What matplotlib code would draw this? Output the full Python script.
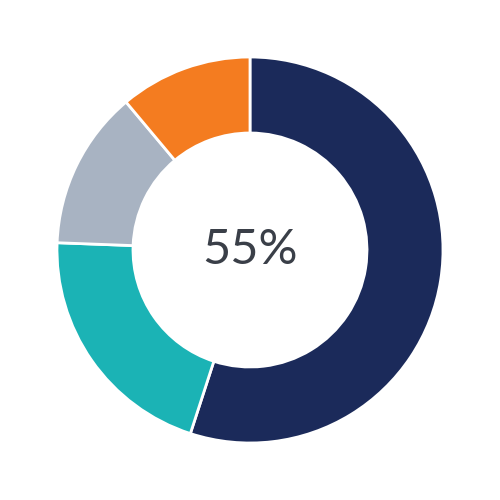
import matplotlib.pyplot as plt

labels = ['A', 'B', 'C', 'D']
values = [55, 20.6, 13.3, 11.1]
colors = ['#1b2a5a', '#1bb3b5', '#a8b3c2', '#f47c20']
center_text = '55%'

fig = plt.figure(figsize=(5, 5), dpi=100)
ax = fig.add_axes([0, 0, 1, 1])
ax.pie(values, colors=colors, startangle=90, counterclock=False,
       radius=0.772,
       wedgeprops=dict(width=0.304, edgecolor='white', linewidth=2))
ax.text(0, 0, center_text, ha='center', va='center', fontsize=35,
        family=['Lato', 'DejaVu Sans'], color='#3a3f48')
ax.set_xlim(-1, 1)
ax.set_ylim(-1, 1)
ax.set_aspect('equal')
ax.axis('off')
fig.savefig('out.png', dpi=100, facecolor='white')
